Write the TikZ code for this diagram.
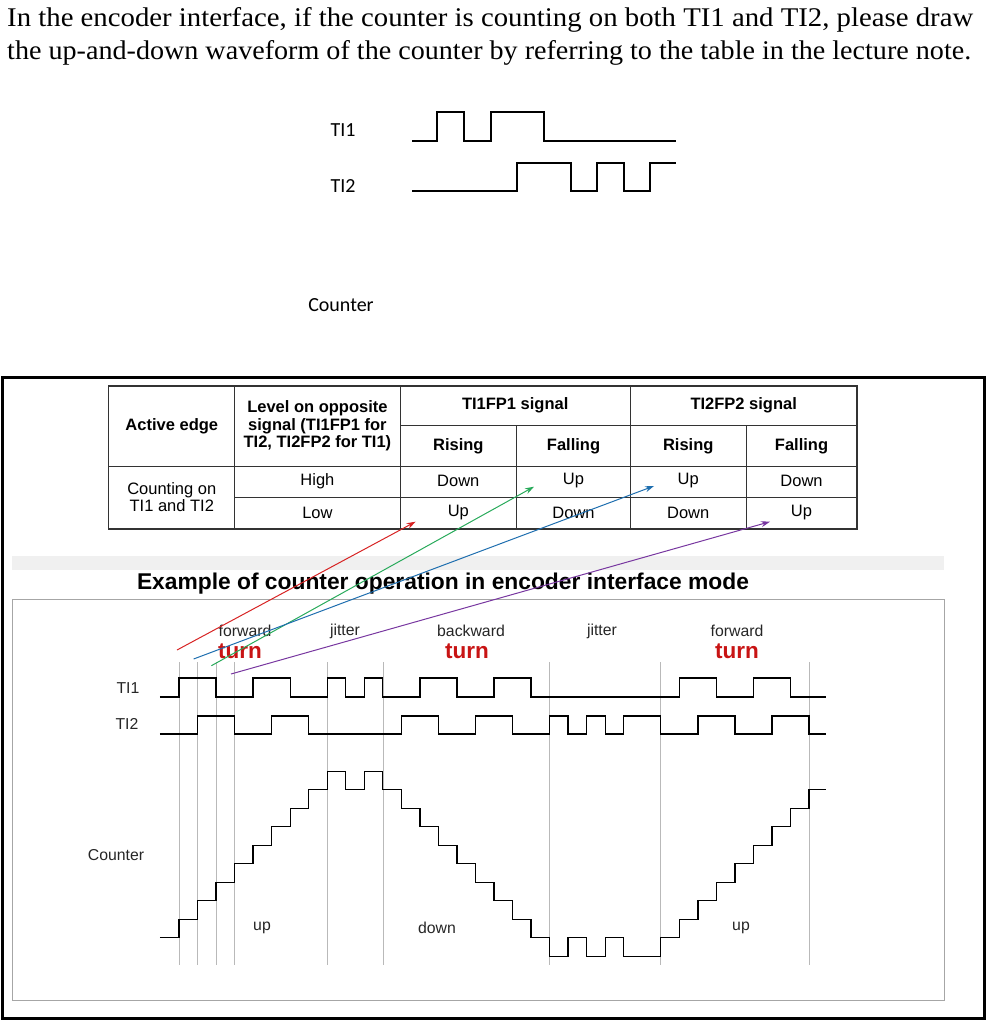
\documentclass[tikz,border=0pt]{standalone}
\usepackage{fontspec}
\usepackage{graphicx}
\setmainfont{Liberation Serif}
\setsansfont{Liberation Sans}
\newfontfamily\carlitofont{Carlito}
\usetikzlibrary{arrows.meta}
\definecolor{ared}{RGB}{215,35,35}
\definecolor{agreen}{RGB}{40,170,90}
\definecolor{ablue}{RGB}{30,110,175}
\definecolor{apurple}{RGB}{120,55,160}
\definecolor{tred}{RGB}{200,20,20}
\begin{document}
\begin{tikzpicture}[x=1pt,y=-1pt,
  wave/.style={line width=1.3pt,black},
  topwave/.style={line width=1.8pt,black},
  tab/.style={font=\sffamily\fontsize{16.5}{17.5}\selectfont,align=center,inner sep=0},
  tabb/.style={tab,font=\sffamily\bfseries\fontsize{16.5}{17.5}\selectfont},
  lbl/.style={font=\sffamily\fontsize{15.8}{17}\selectfont,inner sep=0,text=black!85},
  turnlbl/.style={font=\sffamily\bfseries\fontsize{22.5}{23}\selectfont,inner sep=0,text=tred},
  arr/.style={line width=1pt,-{Stealth[length=9pt,width=6pt]}},
  grid/.style={gray!55,line width=0.6pt}]
\useasboundingbox (0,0) rectangle (986,1024);
% question text
\node[anchor=west,inner sep=0,font=\fontsize{27}{30}\selectfont] (q1) at (7,20) {\resizebox{966pt}{\height}{In the encoder interface, if the counter is counting on both TI1 and TI2, please draw}};
\node[anchor=west,inner sep=0,font=\fontsize{27}{30}\selectfont] (q2) at (7,53) {\resizebox{964pt}{\height}{the up-and-down waveform of the counter by referring to the table in the lecture note.}};
% top labels
\node[font=\carlitofont\fontsize{20}{22}\selectfont,inner sep=0] (l1) at (343,130) {TI1};
\node[font=\carlitofont\fontsize{20}{22}\selectfont,inner sep=0] (l2) at (343,186) {TI2};
\node[font=\carlitofont\fontsize{20}{22}\selectfont,inner sep=0] (lc) at (341,305) {Counter};
\draw[topwave] (412,141) -| (437.3,111.7) -| (464,141) -| (490.7,111.7) -| (544,141) -- (676,141);
\draw[topwave] (412,191) -| (516.7,163) -| (570.7,191) -| (597.3,163) -| (624,191) -| (650,163) -- (676,163);
% outer frame
\draw[line width=3pt] (2,377) rectangle (984,1018);
% table
\draw[line width=1.2pt,black!80] (108.8,386) rectangle (857,529);
\draw[line width=1pt,black!80] (234.8,386) -- (234.8,529) (400,386) -- (400,529) (630.4,386) -- (630.4,529)
  (516.7,425.7) -- (516.7,529) (746,425.7) -- (746,529)
  (400,425.7) -- (857,425.7) (108.8,466) -- (857,466) (234.8,497.7) -- (857,497.7);
\node[tabb] (h1) at (171.8,426) {Active edge};
\node[tabb] (h2) at (317.4,426) {Level on opposite\\signal (TI1FP1 for\\TI2, TI2FP2 for TI1)};
\node[tabb] (h3) at (515.2,405) {TI1FP1 signal};
\node[tabb] (h4) at (743.7,405) {TI2FP2 signal};
\node[tabb] (r1) at (458.3,446) {Rising};
\node[tabb] (f1) at (573.5,446) {Falling};
\node[tabb] (r2) at (688.2,446) {Rising};
\node[tabb] (f2) at (801.5,446) {Falling};
\node[tab] (c0) at (171.8,497) {Counting on\\TI1 and TI2};
\node[tab] (hi) at (317.4,481) {High};
\node[tab] (lo) at (317.4,513) {Low};
\node[tab] (a1) at (458.3,481) {Down};
\node[tab] (a2) at (573.5,481) {Up};
\node[tab] (a3) at (688.2,481) {Up};
\node[tab] (a4) at (801.5,481) {Down};
\node[tab] (b1) at (458.3,513) {Up};
\node[tab] (b2) at (573.5,513) {Down};
\node[tab] (b3) at (688.2,513) {Down};
\node[tab] (b4) at (801.5,513) {Up};
% example figure frame
\fill[gray!12] (12,556) rectangle (944,570);
\node[font=\sffamily\bfseries\fontsize{22.8}{24}\selectfont,inner sep=0] (title) at (443,584) {Example of counter operation in encoder interface mode};
\draw[gray!70,line width=0.8pt] (12,599) rectangle (944,1000);
% labels
\node[lbl] (fw1) at (245,631) {forward};
\node[turnlbl] (t1) at (240,651) {turn};
\node[lbl] (j1) at (345,631) {jitter};
\node[lbl] (bw) at (471,631) {backward};
\node[turnlbl] (t2) at (467,651) {turn};
\node[lbl] (j2) at (602,631) {jitter};
\node[lbl] (fw2) at (737,631) {forward};
\node[turnlbl] (t3) at (737,651) {turn};
\node[lbl] (wti1) at (128,688) {TI1};
\node[lbl] (wti2) at (127,724) {TI2};
\node[lbl] (wc) at (116,855) {Counter};
\node[lbl] (u1) at (262,928) {up};
\node[lbl] (dn) at (437,928) {down};
\node[lbl] (u2) at (741,928) {up};
% grid lines
\foreach \k in {0,1,2,3,8,11,20,26,34}
  \draw[grid] ({179+18.53*\k},662) -- ({179+18.53*\k},965);
% TI1
\draw[wave] (159.8,697) \foreach \k/\v in {0/678,2/697,4/678,6/697,8/678,9/697,10/678,11/697,13/678,15/697,17/678,19/697,27/678,29/697,31/678,33/697} { -| ({179+18.53*\k},\v) } -- (826,697);
% TI2
\draw[wave] (159.8,734) \foreach \k/\v in {1/716,3/734,5/716,7/734,12/716,14/734,16/716,18/734,20/716,21/734,22/716,23/734,24/716,26/734,28/716,30/734,32/716,34/734} { -| ({179+18.53*\k},\v) } -- (826,734);
% counter
\draw[wave] (159.8,937.7) \foreach \k/\L in {0/1,1/2,2/3,3/4,4/5,5/6,6/7,7/8,8/9,9/8,10/9,11/8,12/7,13/6,14/5,15/4,16/3,17/2,18/1,19/0,20/-1,21/0,22/-1,23/0,24/-1,26/0,27/1,28/2,29/3,30/4,31/5,32/6,33/7,34/8} { -| ({179+18.53*\k},{937.7-18.5*\L}) } -- (826,{937.7-18.5*8});
% arrows
\coordinate (sr) at (177,650); \coordinate (er) at (415.6,521.7);
\coordinate (sb) at (193.6,659); \coordinate (eb) at (654,486);
\coordinate (sg) at (211.4,665.7); \coordinate (eg) at (534,486.7);
\coordinate (sp) at (231,674); \coordinate (ep) at (770,521.7);
\draw[arr,ared] (sr) -- (er);
\draw[arr,agreen] (sg) -- (eg);
\draw[arr,ablue] (sb) -- (eb);
\draw[arr,apurple] (sp) -- (ep);
\end{tikzpicture}
\end{document}
